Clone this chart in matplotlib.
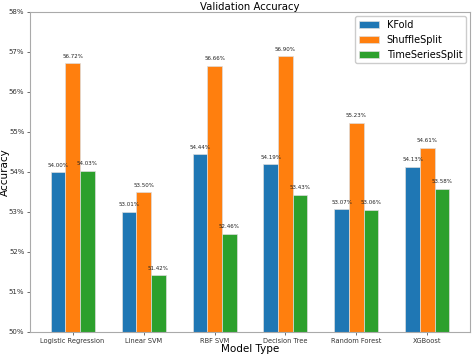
import matplotlib
matplotlib.use("Agg")
import matplotlib.pyplot as plt
import numpy as np
from matplotlib.ticker import FuncFormatter

models = ["Logistic Regression", "Linear SVM", "RBF SVM", "Decision Tree", "Random Forest", "XGBoost"]
kfold = [54.00, 53.01, 54.44, 54.19, 53.07, 54.13]
shuffle = [56.72, 53.50, 56.66, 56.90, 55.23, 54.61]
timeseries = [54.03, 51.42, 52.46, 53.43, 53.06, 53.58]
series_names = ["KFold", "ShuffleSplit", "TimeSeriesSplit"]
colors = ["#1f77b4", "#ff7f0e", "#2ca02c"]

fig = plt.figure(figsize=(4.74, 3.54), dpi=100)
ax = fig.add_axes([30/474, 1 - 332/354, 440/474, 320/354])

x = np.arange(len(models))
w = 0.2
for i, (vals, name, c) in enumerate(zip([kfold, shuffle, timeseries], series_names, colors)):
    pos = x + (i - 1) * 0.21
    bars = ax.bar(pos, vals, w, label=name, color=c, edgecolor="#dddddd", linewidth=0.5)
    for b, v in zip(bars, vals):
        ax.text(b.get_x() + b.get_width() / 2, v + 0.11, f"{v:.2f}%", ha="center", va="bottom",
                fontsize=4.0, color="#222222")

ax.set_ylim(50, 58)
ax.set_xlim(-0.6, 5.6)
ax.yaxis.set_major_formatter(FuncFormatter(lambda v, p: f"{v:.0f}%"))
ax.set_xticks(x)
ax.set_xticklabels(models, fontsize=4.8)
ax.tick_params(axis="y", labelsize=5.0)
ax.tick_params(colors="#333333", length=2, width=0.5, pad=2)
for s in ax.spines.values():
    s.set_color("#aaaaaa")
    s.set_linewidth(0.8)
ax.set_title("Validation Accuracy", fontsize=7.3, pad=1.5)
ax.set_xlabel("Model Type", fontsize=7.5, labelpad=0.5)
ax.set_ylabel("Accuracy", fontsize=7.5, labelpad=1)
ax.yaxis.set_label_coords(-20/440, 0.5)
ax.legend(loc="upper right", fontsize=7, handlelength=2.0, borderaxespad=0.4, framealpha=1)

fig.savefig("out.png", dpi=100)
